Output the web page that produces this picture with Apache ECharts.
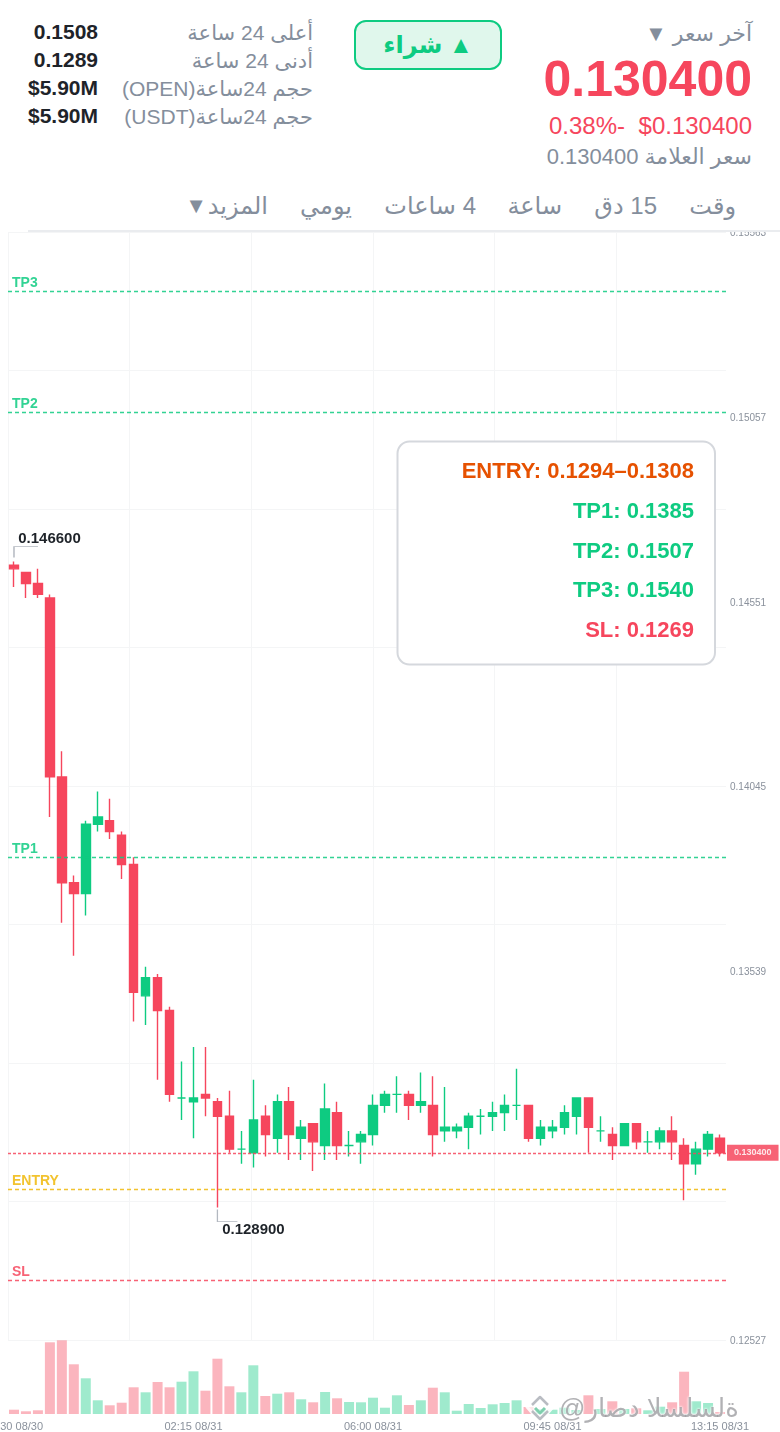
<!DOCTYPE html>
<html>
<head>
<meta charset="utf-8">
<script src="https://cdn.jsdelivr.net/npm/echarts@6/dist/echarts.min.js"></script>
<style>
html,body{margin:0;padding:0;background:#fff;width:780px;height:1432px;overflow:hidden;font-family:"Liberation Sans","DejaVu Sans",sans-serif}
.t{position:absolute;white-space:nowrap;direction:rtl;line-height:1;color:#848e9c}
.l{position:absolute;white-space:nowrap;line-height:1;text-align:right}
#chart{position:absolute;left:0;top:232px;width:780px;height:1200px}
#tabline{position:absolute;left:28px;right:0;top:230px;height:2px;background:#eaecef}
#buy{position:absolute;left:354px;top:20px;width:144px;height:46px;border:2px solid #0ecb81;border-radius:12px;background:#e0f7ec;color:#0ecb81;font-weight:bold;font-size:24px;direction:rtl;display:flex;align-items:center;justify-content:center}
#wm{position:absolute;left:0;top:0;width:780px;height:1432px;pointer-events:none}
#wmtext{position:absolute;left:559px;top:1392px;white-space:nowrap;font-size:26px;line-height:32px;direction:ltr;unicode-bidi:bidi-override;letter-spacing:4.5px;color:rgba(125,125,130,.6);text-shadow:0 0 2px #fff,0 0 3px #fff}
</style>
</head>
<body>
<div class="t" style="right:28px;top:23px;font-size:22px">آخر سعر ▼</div>
<div class="l" style="right:28px;top:54px;font-size:50px;font-weight:bold;color:#f6465d">0.130400</div>
<div class="l" style="right:28px;top:114px;font-size:24px;color:#f6465d">$0.130400</div>
<div class="l" style="left:549px;top:114px;font-size:24px;color:#f6465d">0.38%-</div>
<div class="t" style="right:28px;top:146px;font-size:22px">سعر العلامة 0.130400</div>
<div id="buy">▲ شراء</div>
<div class="t" style="right:467px;top:22px;font-size:21px">أعلى 24 ساعة</div>
<div class="t" style="right:467px;top:50px;font-size:21px">أدنى 24 ساعة</div>
<div class="t" style="right:467px;top:78px;font-size:21px">حجم 24ساعة(OPEN)</div>
<div class="t" style="right:467px;top:106px;font-size:21px">حجم 24ساعة(USDT)</div>
<div class="l" style="right:682px;top:21px;font-size:21px;font-weight:bold;color:#1e2329">0.1508</div>
<div class="l" style="right:682px;top:49px;font-size:21px;font-weight:bold;color:#1e2329">0.1289</div>
<div class="l" style="right:682px;top:77px;font-size:21px;font-weight:bold;color:#1e2329">$5.90M</div>
<div class="l" style="right:682px;top:105px;font-size:21px;font-weight:bold;color:#1e2329">$5.90M</div>
<div class="t" style="right:44px;top:194px;font-size:24px">وقت</div>
<div class="t" style="right:123px;top:194px;font-size:24px">15 دق</div>
<div class="t" style="right:218px;top:194px;font-size:24px">ساعة</div>
<div class="t" style="right:304px;top:194px;font-size:24px">4 ساعات</div>
<div class="t" style="right:428px;top:194px;font-size:24px">يومي</div>
<div class="t" style="right:512px;top:194px;font-size:24px">المزيد</div>
<div class="t" style="right:573px;top:195px;font-size:22px">▼</div>
<div id="tabline"></div>
<div id="chart"></div>
<div id="wm">
<svg style="position:absolute;left:525px;top:1392px" width="30" height="32" viewBox="0 0 30 32">
<g fill="none" stroke-linejoin="round">
<path d="M15 2 L28 15 L15 30 L2 15 Z" fill="#fff" fill-opacity=".75" stroke="#fff" stroke-width="3" opacity=".9"/>
<path d="M7 13 L15 5 L23 13" stroke="#b9bcc2" stroke-width="2.5"/>
<path d="M7 19 L15 27 L23 19" stroke="#b9bcc2" stroke-width="2.5"/>
<path d="M10 16 L15 21 L20 16" stroke="#7fcfae" stroke-width="3"/>
</g></svg>
<div id="wmtext">@راصد السلسلة</div>
</div>
<script>
// --- data ---
var opens  = [0.1465,0.1463,0.1460,0.1456,0.1407,0.1378,0.1375,0.1394,0.1395,0.1391,0.1383,0.1347,0.1352,0.1343,0.1319,0.1318,0.1320,0.1318,0.1314,0.1305,0.1304,0.1314,0.1308,0.1318,0.1308,0.1312,0.1306,0.1315,0.1306,0.1307,0.1309,0.1317,0.1320,0.1320,0.1317,0.1317,0.1310,0.1310,0.1311,0.1314,0.1314,0.1315,0.1317,0.1317,0.1308,0.1310,0.1311,0.1314,0.1319,0.1310,0.1309,0.1306,0.1312,0.1307,0.1307,0.1310,0.1306,0.1301,0.1305,0.1308];
var closes = [0.1464,0.1460,0.1457,0.1407,0.1378,0.1375,0.1394,0.1396,0.1392,0.1383,0.1348,0.1352,0.1343,0.1320,0.1319,0.1319,0.1319,0.1314,0.1305,0.1305,0.1313,0.1309,0.1318,0.1309,0.1311,0.1307,0.1316,0.1306,0.1306,0.1309,0.1317,0.1320,0.1320,0.1317,0.1318,0.1309,0.1311,0.1311,0.1314,0.1314,0.1315,0.1317,0.1317,0.1308,0.1311,0.1311,0.1315,0.1319,0.1311,0.1310,0.1306,0.1312,0.1307,0.1307,0.1310,0.1307,0.1301,0.1305,0.1309,0.1304];
var lows   = [0.1459,0.1456,0.1456,0.1396,0.1367,0.1358,0.1369,0.1392,0.1390,0.1379,0.1340,0.1339,0.1324,0.1318,0.1313,0.1308,0.1314,0.1289,0.1304,0.1301,0.1300,0.1303,0.1304,0.1302,0.1302,0.1299,0.1302,0.1302,0.1303,0.1301,0.1306,0.1315,0.1315,0.1313,0.1315,0.1303,0.1307,0.1308,0.1305,0.1309,0.1310,0.1310,0.1313,0.1307,0.1306,0.1308,0.1309,0.1309,0.1304,0.1307,0.1302,0.1306,0.1305,0.1304,0.1305,0.1302,0.1291,0.1298,0.1303,0.1303];
var highs  = [0.1466,0.1463,0.1464,0.1457,0.1414,0.1380,0.1395,0.1403,0.1401,0.1392,0.1385,0.1355,0.1353,0.1344,0.1329,0.1333,0.1333,0.1319,0.1321,0.1310,0.1324,0.1317,0.1320,0.1322,0.1313,0.1312,0.1323,0.1318,0.1310,0.1310,0.1320,0.1321,0.1325,0.1321,0.1326,0.1325,0.1322,0.1312,0.1315,0.1316,0.1318,0.1320,0.1327,0.1317,0.1313,0.1313,0.1317,0.1319,0.1319,0.1314,0.1311,0.1312,0.1312,0.1310,0.1311,0.1314,0.1308,0.1307,0.1310,0.1309];
var volumes= [4.3,2.7,3.7,71.7,73.7,49.7,35.7,13.7,8.7,11.3,26.7,21.7,32,26.7,32.3,42.7,23.3,55.3,27.7,21.7,48.7,18,20.3,21.7,14.7,11.7,22,15.7,12,11.7,16.3,6.3,18.7,9,13.7,26.3,21.7,3.3,10,6,9.7,11,13.7,7,5,4.3,6.3,4,18.7,5,12.7,5,5.7,3.7,7.3,11.7,42.3,12.7,11,2];
var dojiUp = [14,19,28,32,39,42,49,53];
var priceTickLabels = ['0.12527','','0.13539','0.14045','0.14551','0.15057','0.15563'];
var xLabelIndex = [0,15,30,45,59];
var levelNames  = ['TP3','TP2','TP1','ENTRY','SL'];
var levelValues = [0.1540,0.1507,0.1385,0.1294,0.1269];
var lastPrice = 0.1304, lastPriceText = '0.130400';
var highPoint = {i:0, v:0.1466, text:'0.146600'};
var lowPoint  = {i:17, v:0.1289, text:'0.128900'};
var noteLines = ['ENTRY: 0.1294–0.1308','TP1: 0.1385','TP2: 0.1507','TP3: 0.1540','SL: 0.1269'];

var UP='#0ecb81', DOWN='#f6465d', ORANGE='#e65100', YEL='#f0b90b', GRID='#f4f5f6', AXIS='#8a919c';
var levelColors=[UP,UP,UP,YEL,DOWN];
var noteColors=[ORANGE,UP,UP,UP,DOWN];
var noteY=[240,280,320,359,399];

var categories=[];
(function(){var m=22*60+30,d='08/30';for(var i=0;i<opens.length;i++){var t=m%1440;if(m>=1440)d='08/31';
 categories.push(('0'+Math.floor(t/60)).slice(-2)+':'+('0'+t%60).slice(-2)+' '+d);m+=15;}})();

var candleData=opens.map(function(o,i){
  var item={value:[o,closes[i],lows[i],highs[i]]};
  if(dojiUp.indexOf(i)>=0){item.itemStyle={color:UP,color0:UP,borderColor:UP,borderColor0:UP};}
  return item;
});
var volData=volumes.map(function(v,i){
  return {value:v,itemStyle:{color:closes[i]>=opens[i]?UP:DOWN,opacity:.4}};
});
var levelLines=levelNames.map(function(n,i){
  return {yAxis:levelValues[i],name:n,
    lineStyle:{color:levelColors[i],type:[4,3],width:1.3,opacity:.85},
    label:{show:true,formatter:n,position:'insideStartTop',color:levelColors[i],fontWeight:'bold',fontSize:14,distance:[4,1],fontFamily:'Liberation Sans'}};
});
levelLines.push({yAxis:lastPrice,name:'last',
  lineStyle:{color:DOWN,type:[3,2],width:1.3,opacity:.85},
  label:{show:true,formatter:lastPriceText,position:'end',distance:1,color:'#fff',backgroundColor:DOWN,padding:[4,7,3,7],fontSize:9,fontWeight:'bold',fontFamily:'Liberation Sans'}});

var chart=echarts.init(document.getElementById('chart'),null,{renderer:'canvas'});
var graphicEls=[{type:'rect',z:50,shape:{x:397.5,y:209.5,width:317.5,height:223,r:12},style:{fill:'#fff',stroke:'#d5d8dd',lineWidth:2}}];
noteLines.forEach(function(s,i){
  graphicEls.push({type:'text',z:51,x:694,y:noteY[i],style:{text:s,fill:noteColors[i],font:'bold 22px "Liberation Sans"',textAlign:'right',textVerticalAlign:'middle'}});
});
chart.setOption({
  animation:false,
  backgroundColor:'#fff',
  textStyle:{fontFamily:'Liberation Sans'},
  grid:[
    {left:8,top:0,width:718,height:1108,outerBoundsMode:'none'},
    {left:8,top:1108,width:718,height:74,outerBoundsMode:'none'},
    {left:8,top:1.5,width:718,height:1108,outerBoundsMode:'none'}
  ],
  xAxis:[
    {type:'category',gridIndex:0,data:categories,show:false},
    {type:'category',gridIndex:1,data:categories,axisLine:{show:false},axisTick:{show:false},splitLine:{show:false},
      axisLabel:{color:AXIS,fontSize:11,margin:7,interval:function(i){return xLabelIndex.indexOf(i)>=0;}}},
    {type:'value',gridIndex:0,min:0,max:5.905,interval:1,axisLine:{show:false},axisTick:{show:false},axisLabel:{show:false},
      splitLine:{show:true,showMaxLine:false,lineStyle:{color:GRID,width:1}}},
    {type:'category',gridIndex:2,data:categories,show:false}
  ],
  yAxis:[
    {type:'value',gridIndex:0,min:0.12527,max:0.15563,show:false,scale:true},
    {type:'value',gridIndex:2,position:'right',min:0,max:6,interval:1,axisLine:{show:false},axisTick:{show:false},splitLine:{show:false},
      axisLabel:{show:true,margin:4,color:AXIS,fontSize:10,formatter:function(v){return priceTickLabels[v];}}},
    {type:'value',gridIndex:0,min:0,max:8,interval:1,axisLine:{show:false},axisTick:{show:false},axisLabel:{show:false},
      splitLine:{show:true,lineStyle:{color:GRID,width:1}}},
    {type:'value',gridIndex:1,min:0,max:74,show:false}
  ],
  series:[
    {type:'candlestick',xAxisIndex:0,yAxisIndex:0,data:candleData,barWidth:9,clip:false,
      itemStyle:{color:UP,color0:DOWN,borderColor:UP,borderColor0:DOWN,borderWidth:1.4},
      markLine:{silent:true,symbol:'none',animation:false,precision:6,data:levelLines},
      markPoint:{silent:true,animation:false,data:[
        {coord:[highPoint.i,highPoint.v],symbol:'path://M0 10V0H24',symbolKeepAspect:false,symbolSize:[24,11],symbolOffset:[12,-9.5],
          itemStyle:{color:'none',borderColor:'#b3b8c0',borderWidth:1},
          label:{show:true,formatter:highPoint.text,position:'inside',offset:[23.5,-13.5],color:'#1e2329',fontSize:15,fontWeight:'bold'}},
        {coord:[lowPoint.i,lowPoint.v],symbol:'path://M0 0V12H20',symbolKeepAspect:false,symbolSize:[20,12],symbolOffset:[10,8],
          itemStyle:{color:'none',borderColor:'#b3b8c0',borderWidth:1},
          label:{show:true,formatter:lowPoint.text,position:'inside',offset:[26,14],color:'#1e2329',fontSize:15,fontWeight:'bold'}}
      ]}},
    {type:'bar',xAxisIndex:1,yAxisIndex:3,data:volData,barWidth:10,silent:true}
  ],
  graphic:graphicEls
});
</script>
</body>
</html>
